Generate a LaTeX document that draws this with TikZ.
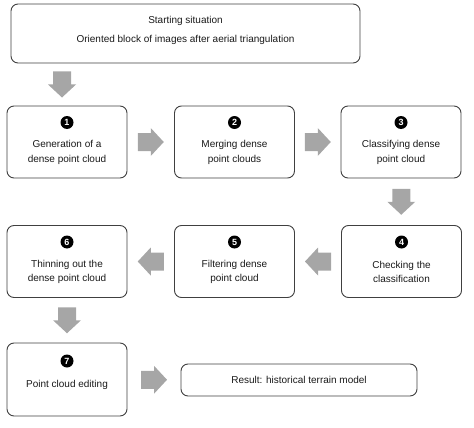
\documentclass[tikz,border=0pt]{standalone}
\usepackage{fontspec}
\setmainfont{Liberation Sans}
\usetikzlibrary{calc}
\definecolor{boxgray}{HTML}{404040}
\definecolor{arrowgray}{HTML}{A6A6A6}
\definecolor{txt}{HTML}{1A1A1A}
\newcommand\blockarrow[2]{%
  \fill[arrowgray, shift={(#1)}, rotate=#2] (-13,-9) -- (0,-9) -- (0,-14) -- (13,0) -- (0,14) -- (0,9) -- (-13,9) -- cycle;}
\begin{document}
\begin{tikzpicture}[x=1pt,y=-1pt,
  box/.style={draw=boxgray, line width=0.9pt, rounded corners=7pt, fill=white, inner sep=0pt},
  stepbox/.style={box, minimum width=120pt, minimum height=72pt},
  lbl/.style={font=\fontsize{10}{14.5}\selectfont, align=center, text=txt, inner sep=0pt},
  num/.style={circle, fill=black, text=white, inner sep=0pt, minimum size=13pt, font=\fontsize{9}{9}\selectfont\bfseries}]
\useasboundingbox (0,0) rectangle (474,428);
% boxes
\node[box, minimum width=349pt, minimum height=59pt] (top) at (185.5,33.5) {};
\node[stepbox] (b1) at (67,142) {};
\node[stepbox] (b2) at (234.5,142) {};
\node[stepbox] (b3) at (401,142) {};
\node[stepbox] (b4) at (401.5,261.5) {};
\node[stepbox] (b5) at (234.5,261.5) {};
\node[stepbox] (b6) at (67,261.5) {};
\node[stepbox, minimum height=73pt] (b7) at (67,379.5) {};
\node[box, minimum width=236pt, minimum height=32pt] (res) at (299,380) {};
% texts
\node[lbl] (toptxt) at ($(top.center)+(0,-3)$) {Starting situation\\[4.5pt]Oriented block of images after aerial triangulation};
\foreach \b/\n/\t in {b1/1/{Generation of a\\dense point cloud}, b2/2/{Merging dense\\point clouds}, b3/3/{Classifying dense\\point cloud}, b4/4/{Checking the\\classification}, b5/5/{Filtering dense\\point cloud}, b6/6/{Thinning out the\\dense point cloud}}{
  \node[num] (\b n) at ($(\b.center)+(0,-19.5)$) {\n};
  \node[lbl] (\b t) at ($(\b.center)+(0,10.5)$) {\t};
}
\node[num] (b7n) at ($(b7.center)+(0,-18.5)$) {7};
\node[lbl] (b7t) at ($(b7.center)+(0,5.5)$) {Point cloud editing};
\node[lbl] (restxt) at (res.center) {Result: historical terrain model};
% arrows
\blockarrow{$($(b1.north)!0.5!(b1.north|-top.south)$)+(-5,0)$}{-90}
\blockarrow{$(b1.east)!0.5!(b2.west)$}{0}
\blockarrow{$(b2.east)!0.5!(b3.west)$}{0}
\blockarrow{$(b3.south)!0.5!(b4.north)$}{-90}
\blockarrow{$(b4.west)!0.5!(b5.east)$}{180}
\blockarrow{$(b5.west)!0.5!(b6.east)$}{180}
\blockarrow{$(b6.south)!0.5!(b7.north)$}{-90}
\blockarrow{$(b7.east)!0.5!(res.west)$}{0}
\end{tikzpicture}
\end{document}
